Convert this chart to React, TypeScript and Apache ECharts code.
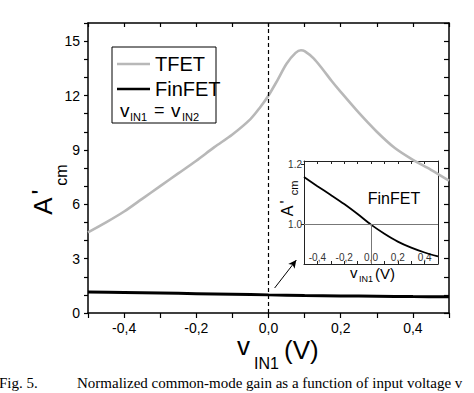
import React, { useEffect, useRef } from "react";
import * as echarts from "echarts";

const tfetX = [-0.5, -0.45, -0.4, -0.35, -0.3, -0.25, -0.2, -0.15, -0.1, -0.05, -0.025, 0, 0.025, 0.05, 0.075, 0.09, 0.1, 0.125, 0.15, 0.175, 0.2, 0.25, 0.3, 0.35, 0.4, 0.45, 0.5];
const tfetY = [4.45, 5.0, 5.6, 6.3, 7.0, 7.7, 8.4, 9.15, 9.85, 10.7, 11.3, 12.0, 12.85, 13.75, 14.35, 14.5, 14.45, 14.05, 13.45, 12.8, 12.2, 11.05, 10.0, 9.1, 8.45, 7.9, 7.3];
const finX = [-0.5, -0.4, -0.3, -0.2, -0.1, 0, 0.1, 0.2, 0.3, 0.4, 0.5];
const finY = [1.157, 1.127, 1.098, 1.068, 1.035, 1.0, 0.97, 0.944, 0.924, 0.908, 0.895];
const seriesNames = ["TFET", "FinFET"];
const mainYTicks = [0, 3, 6, 9, 12, 15];
const insetYLabels = [1.0, 1.2];
const arrowFrom = [0.017, 1.38];
const arrowTo = [0.077, 2.92];

const SANS = "Arial, 'Liberation Sans', sans-serif";
const SERIF = "'Liberation Serif', 'Times New Roman', serif";

const fmtComma = (v: number) => {
  const r = Math.round(v * 10);
  if (r % 2 !== 0) return "";
  const s = (r / 10).toFixed(1).replace(".", ",");
  return s === "-0,0" ? "0,0" : s;
};

export default function App() {
  const ref = useRef<HTMLDivElement>(null);
  useEffect(() => {
    if (!ref.current) return;
    const chart = echarts.init(ref.current, null, { renderer: "svg" });
    const tfet = tfetX.map((x, i) => [x, tfetY[i]]);
    const fin = finX.map((x, i) => [x, finY[i]]);
    const axisLine = { show: true, onZero: false, lineStyle: { color: "#000", width: 1.5 } };
    const insetLine = { show: true, onZero: false, lineStyle: { color: "#222", width: 1 } };
    chart.setOption({
      animation: false,
      backgroundColor: "#fff",
      grid: [
        { left: 88, top: 23, right: 25, bottom: 80 },
        { left: 304, top: 161, width: 134, height: 103 },
      ],
      legend: {
        data: seriesNames,
        orient: "vertical",
        left: 112,
        top: 49,
        icon: "rect",
        itemWidth: 33,
        itemHeight: 2.5,
        itemGap: 5,
        selectedMode: false,
        textStyle: { fontFamily: SANS, fontSize: 20, color: "#000", lineHeight: 19 },
      },
      xAxis: [
        {
          gridIndex: 0, type: "value", position: "bottom", min: -0.5, max: 0.5, interval: 0.1,
          axisLine, splitLine: { show: false },
          axisTick: { show: true, inside: false, length: 5, lineStyle: { color: "#000", width: 1.2 } },
          axisLabel: { formatter: fmtComma, fontFamily: SANS, fontSize: 14, color: "#000", margin: 8 },
        },
        {
          gridIndex: 0, type: "value", position: "top", min: -0.5, max: 0.5, interval: 0.1,
          axisLine, splitLine: { show: false },
          axisTick: { show: true, inside: true, length: 4, lineStyle: { color: "#000", width: 1.2 } },
          axisLabel: { show: false },
        },
        {
          gridIndex: 1, type: "value", position: "bottom", min: -0.5, max: 0.5, interval: 0.1,
          axisLine: insetLine, splitLine: { show: false },
          axisTick: { show: true, inside: true, length: 3, lineStyle: { color: "#222", width: 1 } },
          axisLabel: { formatter: fmtComma, inside: true, margin: 2, fontFamily: SANS, fontSize: 10, color: "#333" },
        },
        {
          gridIndex: 1, type: "value", position: "top", min: -0.5, max: 0.5, interval: 0.1,
          axisLine: insetLine, splitLine: { show: false },
          axisTick: { show: true, inside: true, length: 3, lineStyle: { color: "#222", width: 1 } },
          axisLabel: { show: false },
        },
      ],
      yAxis: [
        {
          gridIndex: 0, type: "value", position: "left", min: 0, max: 16, interval: 1,
          axisLine, splitLine: { show: false },
          axisTick: { show: true, inside: false, length: 4, lineStyle: { color: "#000", width: 1.2 } },
          axisLabel: {
            formatter: (v: number) => (mainYTicks.includes(Math.round(v)) && Math.abs(v - Math.round(v)) < 1e-6 ? String(Math.round(v)) : ""),
            fontFamily: SANS, fontSize: 14, color: "#000", margin: 8,
          },
        },
        {
          gridIndex: 0, type: "value", position: "right", min: 0, max: 16, interval: 1,
          axisLine, splitLine: { show: false },
          axisTick: { show: true, inside: true, length: 5, lineStyle: { color: "#000", width: 1.2 } },
          axisLabel: { show: false },
        },
        {
          gridIndex: 1, type: "value", position: "left", min: 0.87, max: 1.21,
          axisLine: insetLine, splitLine: { show: false },
          axisTick: { show: true, inside: false, length: 3, customValues: insetYLabels, lineStyle: { color: "#222", width: 1 } },
          axisLabel: {
            customValues: insetYLabels,
            formatter: (v: number) => v.toFixed(1),
            fontFamily: SANS, fontSize: 10, color: "#333", margin: 2,
          },
        },
        {
          gridIndex: 1, type: "value", position: "right", min: 0.87, max: 1.21,
          axisLine: insetLine, splitLine: { show: false },
          axisTick: { show: false }, axisLabel: { show: false },
        },
      ],
      series: [
        {
          name: seriesNames[0], type: "line", xAxisIndex: 0, yAxisIndex: 0, data: tfet,
          showSymbol: false, smooth: 0.3, color: "#b8b8b8",
          lineStyle: { color: "#b8b8b8", width: 2.6 },
          markLine: {
            silent: true, symbol: ["none", "none"], label: { show: false },
            lineStyle: { color: "#000", type: [4, 3], width: 1.2 },
            data: [{ xAxis: 0 }],
          },
        },
        {
          name: seriesNames[1], type: "line", xAxisIndex: 0, yAxisIndex: 0, data: fin,
          showSymbol: false, smooth: 0.3, color: "#000",
          lineStyle: { color: "#000", width: 3 },
          markLine: {
            silent: true, symbol: ["none", "arrow"], symbolSize: [6, 8], label: { show: false },
            lineStyle: { color: "#000", type: "solid", width: 1 },
            data: [[{ coord: arrowFrom }, { coord: arrowTo }]],
          },
        },
        {
          name: "FinFET inset", type: "line", xAxisIndex: 2, yAxisIndex: 2, data: fin,
          showSymbol: false, smooth: 0.3, color: "#000",
          lineStyle: { color: "#000", width: 1.8 },
          markLine: {
            silent: true, symbol: ["none", "none"], label: { show: false },
            lineStyle: { color: "#777", type: "solid", width: 1 },
            data: [{ yAxis: 1.0 }, [{ coord: [0, 0.87] }, { coord: [0, 1.0] }]],
          },
        },
      ],
      graphic: [
        { type: "rect", shape: { x: 112, y: 47, width: 104, height: 76 }, style: { fill: "none", stroke: "#000", lineWidth: 1 }, z: 10 },
        { type: "text", x: 120, y: 110, style: { text: "v", font: `19px ${SANS}`, fill: "#000", textVerticalAlign: "middle" }, z: 10 },
        { type: "text", x: 130, y: 117, style: { text: "IN1", font: `11px ${SANS}`, fill: "#000", textVerticalAlign: "middle" }, z: 10 },
        { type: "text", x: 154, y: 110, style: { text: "=", font: `18px ${SANS}`, fill: "#000", textVerticalAlign: "middle" }, z: 10 },
        { type: "text", x: 171, y: 110, style: { text: "v", font: `19px ${SANS}`, fill: "#000", textVerticalAlign: "middle" }, z: 10 },
        { type: "text", x: 182, y: 117, style: { text: "IN2", font: `11px ${SANS}`, fill: "#000", textVerticalAlign: "middle" }, z: 10 },
        // main x-axis title
        { type: "text", x: 237, y: 346, style: { text: "v", font: `26px ${SANS}`, fill: "#000", textVerticalAlign: "middle" } },
        { type: "text", x: 254, y: 363, style: { text: "IN1", font: `16px ${SANS}`, fill: "#000", textVerticalAlign: "middle" } },
        { type: "text", x: 284, y: 350, style: { text: "(V)", font: `26px ${SANS}`, fill: "#000", textVerticalAlign: "middle" } },
        // main y-axis title (rotated)
        { type: "text", x: 43, y: 206, rotation: Math.PI / 2, style: { text: "A", font: `26px ${SANS}`, fill: "#000", textAlign: "center", textVerticalAlign: "middle" } },
        { type: "text", x: 41, y: 192, rotation: Math.PI / 2, style: { text: "'", font: `26px ${SANS}`, fill: "#000", textAlign: "center", textVerticalAlign: "middle" } },
        { type: "text", x: 61, y: 175, rotation: Math.PI / 2, style: { text: "cm", font: `16px ${SANS}`, fill: "#000", textAlign: "center", textVerticalAlign: "middle" } },
        // inset labels
        { type: "text", x: 394, y: 198, style: { text: "FinFET", font: `16px ${SANS}`, fill: "#000", textAlign: "center", textVerticalAlign: "middle" } },
        { type: "text", x: 350, y: 272, style: { text: "v", font: `15px ${SANS}`, fill: "#000", textVerticalAlign: "middle" } },
        { type: "text", x: 359, y: 279, style: { text: "IN1", font: `9px ${SANS}`, fill: "#000", textVerticalAlign: "middle" } },
        { type: "text", x: 375, y: 273, style: { text: "(V)", font: `15px ${SANS}`, fill: "#000", textVerticalAlign: "middle" } },
        { type: "text", x: 287, y: 211, rotation: Math.PI / 2, style: { text: "A", font: `16px ${SANS}`, fill: "#000", textAlign: "center", textVerticalAlign: "middle" } },
        { type: "text", x: 286, y: 202, rotation: Math.PI / 2, style: { text: "'", font: `16px ${SANS}`, fill: "#000", textAlign: "center", textVerticalAlign: "middle" } },
        { type: "text", x: 294, y: 188, rotation: Math.PI / 2, style: { text: "cm", font: `11px ${SANS}`, fill: "#000", textAlign: "center", textVerticalAlign: "middle" } },
        // caption
        { type: "text", x: -1, y: 383, style: { text: "Fig. 5.", font: `15px ${SERIF}`, fill: "#000", textVerticalAlign: "middle" } },
        { type: "text", x: 77, y: 383, style: { text: "Normalized common-mode gain as a function of input voltage v", font: `15px ${SERIF}`, fill: "#000", textVerticalAlign: "middle" } },
      ],
    });
    return () => chart.dispose();
  }, []);
  return <div ref={ref} style={{ position: "fixed", left: 0, top: 0, width: 474, height: 393 }} />;
}
